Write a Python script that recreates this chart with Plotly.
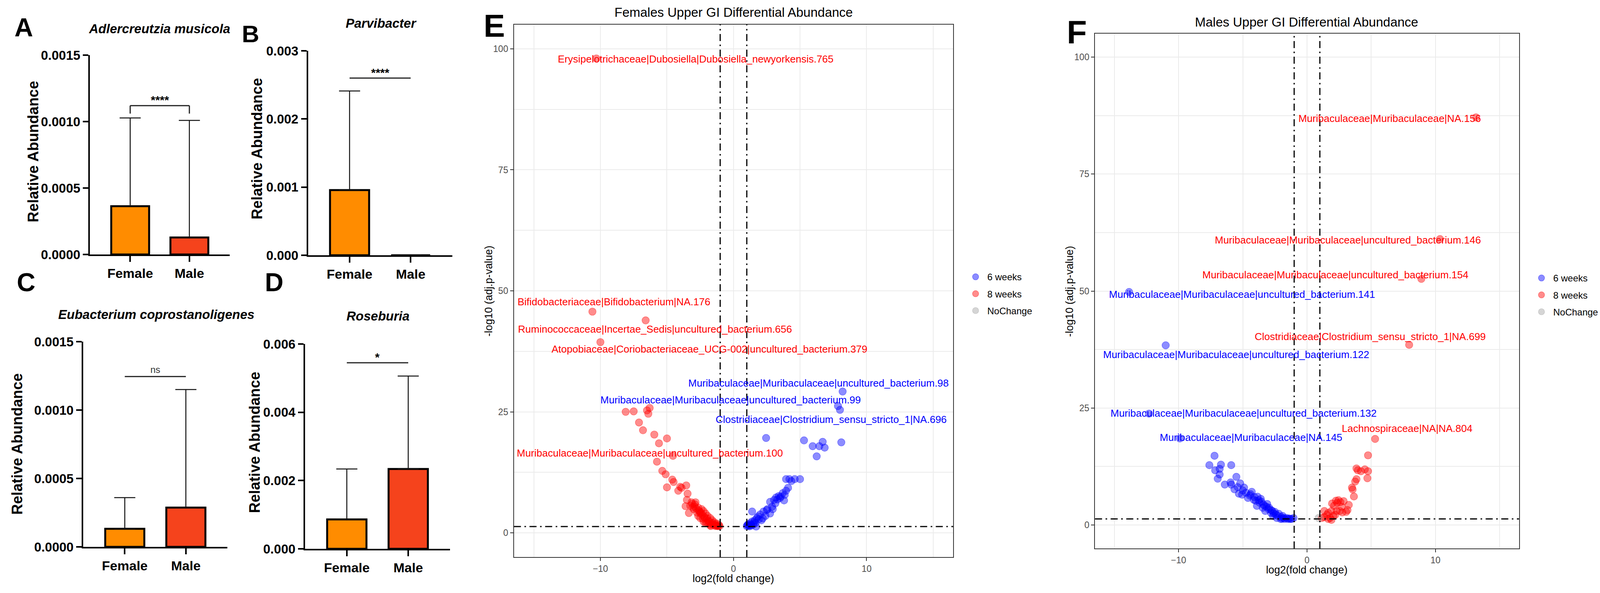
import plotly.graph_objects as go

W, H = 4306, 1517
FONT = "Arial"

# --- Bar panels A-D ---
groups = ["Female", "Male"]
bar_titles = ["Adlercreutzia musicola", "Parvibacter", "Eubacterium coprostanoligenes", "Roseburia"]
bar_means = [[0.000363, 0.000128], [0.000956, 0.0], [0.000132, 0.000287], [0.000863, 0.00234]]
bar_sd = [[0.000664, 0.000881], [0.001454, 0.0], [0.000228, 0.000863], [0.001477, 0.00272]]
bar_ymax = [0.0015, 0.003, 0.0015, 0.006]
bar_dtick = [0.0005, 0.001, 0.0005, 0.002]
bar_fmt = [".4f", ".3f", ".4f", ".3f"]
sig_text = ["****", "****", "ns", "*"]
sig_y = [0.00112, 0.0026, 0.001245, 0.00545]
sig_drop_a = 0.00106

# --- Volcano panel E (females) ---
e_6wk_x = [8.2, 7.85, 8.0, 2.45, 5.3, 5.95, 6.45, 6.7, 6.85, 6.25, 8.1,
           5.0, 4.6, 4.2, 3.95, 4.35, 4.1, 3.95, 3.85, 3.4, 3.2, 3.05, 3.8, 2.75, 3.15,
           2.9, 2.5, 2.25, 2.0, 2.75, 1.75, 1.85, 1.6, 1.4, 1.25, 1.1, 1.0, 2.1, 1.9,
           1.65, 1.5, 1.35, 1.2, 2.4, 2.55, 2.95, 3.55, 3.7, 1.4, 1.7, 3.5, 3.3, 2.2,
           1.15, 1.05, 1.3, 1.55]
e_6wk_y = [29.2, 26.2, 25.4, 19.6, 19.1, 17.9, 17.9, 18.8, 17.6, 15.8, 18.7,
           11.1, 11.1, 11.1, 11.1, 10.7, 9.3, 8.7, 7.85, 7.6, 7.3, 6.8, 6.7, 6.4, 6.1,
           5.4, 4.7, 4.4, 3.8, 4.0, 3.05, 3.4, 2.6, 2.35, 2.0, 1.75, 1.4, 2.6, 2.8,
           2.0, 1.75, 1.5, 1.35, 3.5, 4.9, 4.9, 7.5, 8.2, 4.4, 1.3, 7.2, 6.9, 3.0,
           1.5, 1.6, 1.7, 2.2]
e_8wk_x = [-10.3, -10.6, -6.6, -10.0, -8.1, -7.5, -6.5, -6.3, -6.4, -7.1, -6.8, -5.95,
           -5.0, -5.6, -4.55, -5.75, -5.35, -5.1, -4.6, -4.5, -5.0, -4.0, -3.55, -4.15,
           -3.9, -3.45, -3.5, -3.6, -3.35,
           -3.15, -2.9, -2.65, -2.4, -2.25, -2.1, -1.95, -1.75, -1.6, -1.45, -1.25, -1.1,
           -1.05, -2.5, -2.15, -1.85, -1.7, -2.0, -2.65, -3.0, -2.75, -1.5, -1.35, -1.2,
           -2.5, -2.25, -2.1, -1.75, -3.25, -2.85, -2.35, -3.05, -2.8, -2.55, -2.0, -1.9,
           -1.55, -1.4, -2.3, -3.1, -2.95, -2.6, -2.45, -2.2, -1.8, -1.65, -1.3, -1.15]
e_8wk_y = [98.0, 45.7, 43.9, 39.4, 25.0, 25.1, 25.3, 25.8, 24.6, 22.8, 21.2, 20.3,
           19.5, 18.5, 15.9, 14.7, 12.8, 12.1, 11.0, 10.5, 9.4, 9.5, 9.8, 8.7,
           9.3, 8.1, 6.8, 5.5, 4.1,
           6.3, 5.9, 5.2, 4.9, 4.5, 4.0, 3.5, 3.05, 2.6, 2.2, 1.9, 1.65,
           1.4, 4.0, 3.05, 1.9, 1.4, 2.1, 3.5, 4.9, 4.2, 1.65, 1.4, 1.4,
           3.05, 2.35, 2.0, 1.55, 5.6, 6.3, 3.75, 5.3, 5.0, 4.4, 3.0, 2.5,
           2.0, 1.8, 2.9, 6.0, 5.5, 4.6, 4.2, 3.3, 2.3, 1.8, 1.5, 1.4]
e_labels = ["Erysipelotrichaceae|Dubosiella|Dubosiella_newyorkensis.765",
            "Bifidobacteriaceae|Bifidobacterium|NA.176",
            "Ruminococcaceae|Incertae_Sedis|uncultured_bacterium.656",
            "Atopobiaceae|Coriobacteriaceae_UCG-002|uncultured_bacterium.379",
            "Muribaculaceae|Muribaculaceae|uncultured_bacterium.98",
            "Muribaculaceae|Muribaculaceae|uncultured_bacterium.99",
            "Clostridiaceae|Clostridium_sensu_stricto_1|NA.696",
            "Muribaculaceae|Muribaculaceae|uncultured_bacterium.100"]
e_label_group = ["8 weeks", "8 weeks", "8 weeks", "8 weeks", "6 weeks", "6 weeks", "6 weeks", "8 weeks"]

# --- Volcano panel F (males) ---
f_6wk_x = [-13.85, -11.0, -12.3, -9.9, -7.2, -7.6, -6.7, -5.9, -7.15, -6.8, -6.8, -6.95,
           -5.5, -6.4, -5.95, -5.9, -5.2, -5.65, -5.3, -4.9, -4.75, -4.45, -3.85, -4.15,
           -3.55, -3.9, -3.3, -2.95, -2.8, -3.25, -2.5, -2.2, -2.35, -1.9, -1.6, -1.3,
           -1.05, -2.8, -3.6, -4.6, -4.3, -2.05, -1.75, -3.1, -3.45, -2.65, -5.05, -3.7,
           -4.0, -3.4, -3.0, -2.6, -2.3, -2.0, -1.8, -1.4, -1.2, -4.4, -4.1, -3.75,
           -3.15, -2.7, -2.45, -1.95, -1.5, -5.4, -5.0]
f_6wk_y = [49.8, 38.4, 23.8, 18.5, 14.8, 12.8, 12.9, 12.8, 11.7, 12.0, 10.8, 9.9,
           10.3, 8.65, 9.1, 8.65, 8.9, 7.65, 6.7, 8.0, 6.9, 6.3, 6.05, 5.4,
           5.0, 4.1, 4.1, 3.7, 3.2, 3.0, 2.8, 2.4, 1.5, 1.95, 1.5, 1.3,
           1.5, 2.6, 5.6, 5.8, 7.1, 1.3, 1.3, 4.5, 3.7, 1.95, 6.5, 4.8,
           5.2, 4.4, 3.4, 2.5, 2.0, 1.7, 1.5, 1.4, 1.3, 6.6, 6.0, 5.3,
           3.9, 3.0, 2.3, 1.35, 1.3, 8.1, 7.4]
f_8wk_x = [13.15, 10.35, 8.9, 7.95, 5.3, 4.75, 3.85, 3.95, 4.2, 4.5, 4.75, 4.7, 3.85,
           3.75, 3.5, 3.55, 3.65, 3.25, 2.85, 2.45, 2.35, 1.95, 2.1, 3.15, 3.05, 2.75,
           2.55, 2.3, 1.9, 1.65, 1.35, 1.55, 2.05, 1.8, 1.15, 1.35, 2.2, 2.7, 1.9, 1.65,
           2.6, 2.25]
f_8wk_y = [87.1, 61.1, 52.6, 38.5, 18.4, 14.9, 12.1, 11.7, 11.5, 11.9, 11.5, 10.0, 9.8,
           9.3, 8.0, 7.6, 6.1, 4.3, 5.1, 5.3, 4.75, 4.6, 4.1, 3.2, 2.8, 2.7,
           3.0, 3.0, 3.0, 2.6, 3.0, 2.2, 1.95, 1.5, 1.5, 1.7, 2.2, 3.9, 1.1, 1.3,
           4.9, 5.2]
f_nc_x = [0.9]
f_nc_y = [1.5]
f_labels = ["Muribaculaceae|Muribaculaceae|NA.156",
            "Muribaculaceae|Muribaculaceae|uncultured_bacterium.146",
            "Muribaculaceae|Muribaculaceae|uncultured_bacterium.154",
            "Muribaculaceae|Muribaculaceae|uncultured_bacterium.141",
            "Clostridiaceae|Clostridium_sensu_stricto_1|NA.699",
            "Muribaculaceae|Muribaculaceae|uncultured_bacterium.122",
            "Muribaculaceae|Muribaculaceae|uncultured_bacterium.132",
            "Muribaculaceae|Muribaculaceae|NA.145",
            "Lachnospiraceae|NA|NA.804"]
f_label_group = ["8 weeks", "8 weeks", "8 weeks", "6 weeks", "8 weeks", "6 weeks", "6 weeks", "6 weeks", "8 weeks"]

# --- layout placement (pixels of the 4306x1517 canvas) ---
bar_boxes = [(242, 618, 141, 651), (829, 1217, 130, 653), (224, 612, 874, 1399), (821, 1211, 880, 1404)]
bar_title_pos = [(429, 73), (1026, 59), (420, 804), (1017, 808)]
bar_ytitle_pos = [(89, 388), (692, 380), (46, 1136), (685, 1132)]
e_label_pos = [(-2.85, 97.9), (-9.0, 47.7), (-5.9, 42.1), (-1.8, 38.0), (6.4, 30.9), (-0.2, 27.5), (7.35, 23.4), (-6.3, 16.5)]
f_label_pos = [(6.42, 86.9), (3.17, 60.9), (2.21, 53.5), (-5.05, 49.3), (4.94, 40.3), (-5.53, 36.4), (-4.93, 23.9), (-4.36, 18.7), (7.77, 20.65)]

BAR_COLORS = ["#FF8C00", "#F5431C"]
GROUP_COLORS = {"6 weeks": "rgba(0,0,255,0.45)", "8 weeks": "rgba(255,0,0,0.45)", "NoChange": "rgba(150,150,150,0.4)"}
TEXT_COLORS = {"6 weeks": "#0000FF", "8 weeks": "#FF0000"}


def px(v):
    return v / W


def py(v):
    return 1 - v / H


fig = go.Figure()
annotations = []
shapes = []
layout_axes = {}

for i in range(4):
    n = i + 1
    xa = "x" if n == 1 else f"x{n}"
    ya = "y" if n == 1 else f"y{n}"
    x0, x1, y0, y1 = bar_boxes[i]
    fig.add_trace(go.Bar(
        x=groups, y=bar_means[i], width=0.64,
        marker=dict(color=BAR_COLORS, line=dict(color="black", width=5)),
        error_y=dict(type="data", array=bar_sd[i], arrayminus=[0, 0], symmetric=False,
                     color="#111111", thickness=2.5, width=27),
        xaxis=xa, yaxis=ya, showlegend=False, hoverinfo="skip"
    ))
    layout_axes["xaxis" if n == 1 else f"xaxis{n}"] = dict(
        domain=[px(x0), px(x1)], anchor=ya, type="category", range=[-0.68, 1.68],
        showline=True, linecolor="black", linewidth=4, ticks="outside", ticklen=15,
        tickwidth=4, tickcolor="black", showgrid=False, zeroline=False,
        tickfont=dict(family=FONT, size=34, color="black", weight="bold"))
    layout_axes["yaxis" if n == 1 else f"yaxis{n}"] = dict(
        domain=[py(y1), py(y0)], anchor=xa, range=[0, bar_ymax[i]], tick0=0,
        dtick=bar_dtick[i], tickformat=bar_fmt[i], showline=True, linecolor="black",
        linewidth=4, ticks="outside", ticklen=14, tickwidth=4, tickcolor="black",
        showgrid=False, zeroline=False,
        tickfont=dict(family=FONT, size=33, color="black", weight="bold"))

    # significance line / bracket
    shapes.append(dict(type="line", xref=xa, yref=ya, x0=0, x1=1, y0=sig_y[i], y1=sig_y[i],
                       line=dict(color="#222222", width=3)))
    if i == 0:
        for cx in (0, 1):
            shapes.append(dict(type="line", xref=xa, yref=ya, x0=cx, x1=cx, y0=sig_drop_a,
                               y1=sig_y[i], line=dict(color="#222222", width=3)))
    is_ns = sig_text[i] == "ns"
    annotations.append(dict(
        x=0.5, y=sig_y[i], xref=xa, yref=ya, text=sig_text[i], showarrow=False,
        yanchor="bottom", yshift=2 if is_ns else -4,
        font=dict(family=FONT, size=24 if is_ns else 30, color="#333333" if is_ns else "black",
                  weight="normal" if is_ns else "bold")))

    tx, ty = bar_title_pos[i]
    annotations.append(dict(x=px(tx), y=py(ty), xref="paper", yref="paper",
                            text=f"<b><i>{bar_titles[i]}</i></b>", showarrow=False,
                            xanchor="center", yanchor="middle",
                            font=dict(family=FONT, size=33, color="black")))
    yx, yy = bar_ytitle_pos[i]
    annotations.append(dict(x=px(yx), y=py(yy), xref="paper", yref="paper",
                            text="<b>Relative Abundance</b>", textangle=-90, showarrow=False,
                            xanchor="center", yanchor="middle",
                            font=dict(family=FONT, size=38, color="black")))

# --- volcano panels ---
volcano = [
    dict(n=5, box=(1383, 2565, 63, 1425), title="Females Upper GI Differential Abundance",
         title_pos=(1974, 32), xt_pos=(1974, 1480), yt_pos=(1315, 744), legend="legend",
         series=[("6 weeks", e_6wk_x, e_6wk_y), ("8 weeks", e_8wk_x, e_8wk_y), ("NoChange", [None], [None])],
         labels=e_labels, label_group=e_label_group, label_pos=e_label_pos),
    dict(n=6, box=(2947, 4088, 86, 1403), title="Males Upper GI Differential Abundance",
         title_pos=(3517, 56), xt_pos=(3517, 1458), yt_pos=(2878, 745), legend="legend2",
         series=[("6 weeks", f_6wk_x, f_6wk_y), ("8 weeks", f_8wk_x, f_8wk_y), ("NoChange", f_nc_x, f_nc_y)],
         labels=f_labels, label_group=f_label_group, label_pos=f_label_pos),
]

DASH = "18px,9px,4px,9px"
for v in volcano:
    n = v["n"]
    xa, ya = f"x{n}", f"y{n}"
    x0, x1, y0, y1 = v["box"]
    for name, xs, ys in v["series"]:
        col = GROUP_COLORS[name]
        fig.add_trace(go.Scatter(
            x=xs, y=ys, mode="markers", name=name, legend=v["legend"],
            legendgroup=f"{v['legend']}-{name}",
            marker=dict(size=19, color=col, line=dict(width=1.2, color=col)),
            xaxis=xa, yaxis=ya, hoverinfo="x+y"
        ))
    axis_common = dict(showline=True, mirror=True, linecolor="#333333", linewidth=2,
                       ticks="outside", ticklen=8, tickwidth=1.5, tickcolor="#333333",
                       showgrid=True, gridcolor="#EBEBEB", gridwidth=2, zeroline=False,
                       tickfont=dict(family=FONT, size=23, color="#4D4D4D"))
    layout_axes[f"xaxis{n}"] = dict(
        domain=[px(x0), px(x1)], anchor=ya, range=[-16.5, 16.5], tick0=0, dtick=10,
        minor=dict(tick0=0, dtick=5, showgrid=True, gridcolor="#EBEBEB", gridwidth=1.5),
        **axis_common)
    layout_axes[f"yaxis{n}"] = dict(
        domain=[py(y1), py(y0)], anchor=xa, range=[-5, 105], tick0=0, dtick=25,
        minor=dict(tick0=0, dtick=12.5, showgrid=True, gridcolor="#EBEBEB", gridwidth=1.5),
        **axis_common)

    for xv in (-1, 1):
        shapes.append(dict(type="line", xref=xa, yref=f"{ya} domain", x0=xv, x1=xv, y0=0, y1=1,
                           line=dict(color="black", width=3, dash=DASH)))
    shapes.append(dict(type="line", xref=f"{xa} domain", yref=ya, x0=0, x1=1, y0=1.3, y1=1.3,
                       line=dict(color="black", width=3, dash=DASH)))

    for text, grp, (lx, ly) in zip(v["labels"], v["label_group"], v["label_pos"]):
        annotations.append(dict(x=lx, y=ly, xref=xa, yref=ya, text=text, showarrow=False,
                                xanchor="center", yanchor="middle",
                                font=dict(family=FONT, size=26, color=TEXT_COLORS[grp])))

    tx, ty = v["title_pos"]
    annotations.append(dict(x=px(tx), y=py(ty), xref="paper", yref="paper", text=v["title"],
                            showarrow=False, xanchor="center", yanchor="middle",
                            font=dict(family=FONT, size=33, color="black")))
    tx, ty = v["xt_pos"]
    annotations.append(dict(x=px(tx), y=py(ty), xref="paper", yref="paper", text="log2(fold change)",
                            showarrow=False, xanchor="center", yanchor="middle",
                            font=dict(family=FONT, size=27, color="black")))
    tx, ty = v["yt_pos"]
    annotations.append(dict(x=px(tx), y=py(ty), xref="paper", yref="paper", text="-log10 (adj.p-value)",
                            showarrow=False, textangle=-90, xanchor="center", yanchor="middle",
                            font=dict(family=FONT, size=27, color="black")))

# panel letters
for letter, lx, ly, size in [("A", 64, 70, 66), ("B", 674, 87, 62), ("C", 70, 722, 66),
                             ("D", 738, 722, 66), ("E", 1330, 65, 82), ("F", 2898, 82, 84)]:
    annotations.append(dict(x=px(lx), y=py(ly), xref="paper", yref="paper", text=f"<b>{letter}</b>",
                            showarrow=False, xanchor="center", yanchor="middle",
                            font=dict(family=FONT, size=size, color="black")))

LEGEND_STYLE = dict(xanchor="left", yanchor="top", bgcolor="rgba(0,0,0,0)",
                    font=dict(family=FONT, size=24, color="black"), itemwidth=50,
                    traceorder="grouped", tracegroupgap=9)

fig.update_layout(
    autosize=True,
    margin=dict(l=0, r=0, t=0, b=0, autoexpand=False),
    paper_bgcolor="white", plot_bgcolor="white",
    showlegend=True,
    legend=dict(x=px(2594), y=py(686), **LEGEND_STYLE),
    legend2=dict(x=px(4117), y=py(689), **LEGEND_STYLE),
    annotations=annotations,
    shapes=shapes,
    **layout_axes
)

# fill the browser window exactly (no default body margin, no scrollbars)
fig.write_html(
    "out.html",
    default_width="100vw",
    default_height="100vh",
    config={"responsive": True, "displayModeBar": False},
    post_script="document.body.style.margin='0';document.documentElement.style.overflow='hidden';"
)
